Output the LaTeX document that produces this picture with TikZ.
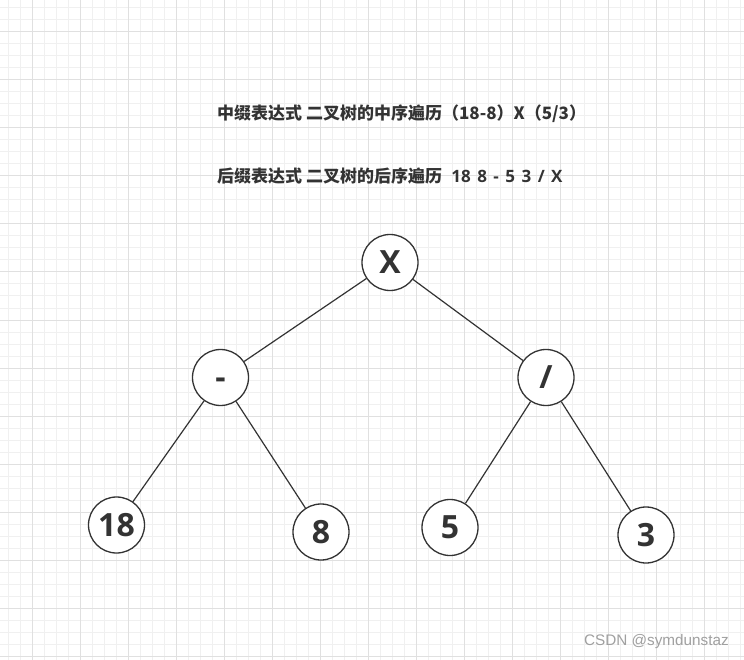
\documentclass[tikz,border=0pt]{standalone}
\usepackage{fontspec}
\setmainfont{Open Sans}
\newfontfamily\cjk{Noto Sans CJK SC}
\newfontfamily\wmfont{Liberation Sans}
\definecolor{ink}{HTML}{333333}
\definecolor{gridminor}{HTML}{F0F0F0}
\definecolor{gridmajor}{HTML}{E0E0E0}
\definecolor{wm}{HTML}{A0A0A0}
\begin{document}
\begin{tikzpicture}[x=1pt,y=-1pt,
  treenode/.style={circle,draw=ink,line width=1.3pt,fill=white,minimum size=56pt,inner sep=0pt,
    text=ink,font=\fontsize{32}{32}\selectfont\bfseries,text height=22.5pt,text depth=0pt},
  edge/.style={draw=ink,line width=1.2pt},
  title/.style={anchor=west,inner sep=0pt,text=ink,font=\cjk\fontsize{17}{17}\selectfont\bfseries}]
\useasboundingbox (0,0) rectangle (744,660);
\fill[white] (0,0) rectangle (744,660);
% grid
\foreach \gx in {8,20,...,740} \draw[gridminor,line width=1pt] (\gx,0) -- (\gx,660);
\foreach \gy in {8,20,...,656} \draw[gridminor,line width=1pt] (0,\gy) -- (744,\gy);
\foreach \gx in {32,80,...,704} \draw[gridmajor,line width=1pt] (\gx,0) -- (\gx,660);
\foreach \gy in {32,80,...,656} \draw[gridmajor,line width=1pt] (0,\gy) -- (744,\gy);
% titles
\node[title] (t1) at (217,114) {中缀表达式 二叉树的中序遍历（18-8）X（5/3）};
\node[title] (t2) at (217,176) {后缀表达式 二叉树的后序遍历\hspace{0.55em}{\rmfamily\fontsize{17}{17}\selectfont\bfseries\spaceskip=0.38em 18 8 - 5 3 / X}};
% tree
\node[treenode] (root) at (390,262.5) {X};
\node[treenode] (minus) at (220.5,377.5) {-};
\node[treenode] (slash) at (546,377.5) {/};
\node[treenode] (n18) at (116.5,525) {18};
\node[treenode] (n8) at (321,532) {8};
\node[treenode] (n5) at (450,527.5) {5};
\node[treenode] (n3) at (646,535) {3};
\draw[edge] (root) -- (minus);
\draw[edge] (root) -- (slash);
\draw[edge] (minus) -- (n18);
\draw[edge] (minus) -- (n8);
\draw[edge] (slash) -- (n5);
\draw[edge] (slash) -- (n3);
% watermark
\node[anchor=east,inner sep=0pt,text=wm,font=\wmfont\fontsize{15.3}{15.3}\selectfont] (wmk) at (729,642) {CSDN @symdunstaz};
\end{tikzpicture}
\end{document}
